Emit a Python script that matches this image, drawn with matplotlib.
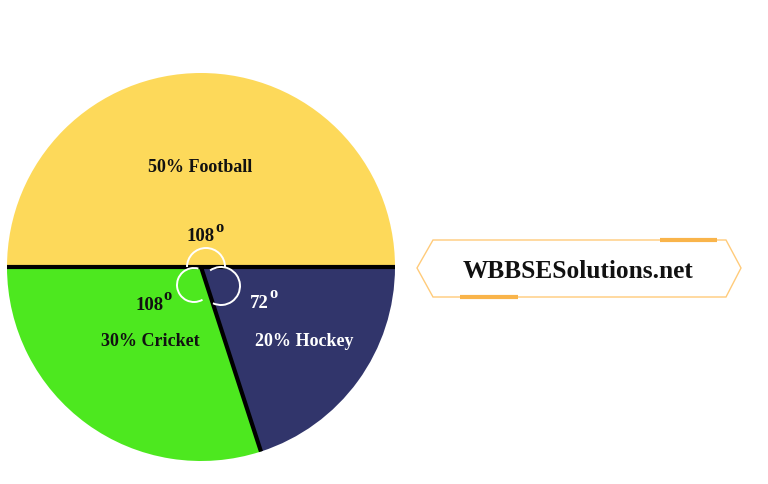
import numpy as np
import matplotlib
matplotlib.use("Agg")
import matplotlib.pyplot as plt
from matplotlib.patches import Arc, Polygon

# ---- data ----
sports = ["Football", "Cricket", "Hockey"]
shares = [50, 30, 20]
angle_labels = ["108", "108", "72"]
colors = ["#FDD95A", "#4DE81F", "#31356B"]
site = "WBBSESolutions.net"

W, H = 768, 485
fig = plt.figure(figsize=(W / 100, H / 100), dpi=100)
ax = fig.add_axes([0, 0, 1, 1])

def Y(py):
    return H - py

cx, cy, R = 201, Y(268), 194
ax.pie(shares, colors=colors, startangle=0, counterclock=True,
       center=(cx, cy), radius=R, wedgeprops=dict(linewidth=0))

# boundary lines
bounds = np.cumsum([0] + shares[:-1]) / sum(shares) * 360
for a in bounds:
    t = np.deg2rad(a)
    ax.plot([cx, cx + R * np.cos(t)], [cy, cy + R * np.sin(t)],
            color="black", lw=3, solid_capstyle="butt", zorder=3)

# angle arcs
arc_kw = dict(color="white", lw=1.4, zorder=4)
ax.add_patch(Arc((206, Y(268)), 38, 38, theta1=0, theta2=180, **arc_kw))
ax.add_patch(Arc((194, Y(286)), 34, 34, theta1=75, theta2=300, **arc_kw))
ax.add_patch(Arc((221, Y(287)), 38, 38, theta1=-115, theta2=125, **arc_kw))

serif = ["Liberation Serif", "DejaVu Serif"]
tkw = dict(family=serif, fontweight="bold", ha="center", va="center_baseline",
           zorder=5)

# category labels
cat_pos = [(200, 166), (150, 340), (304, 339)]
cat_col = ["#111111", "#111111", "white"]
for s, v, (px, py), c in zip(sports, shares, cat_pos, cat_col):
    ax.text(px, Y(py), f"{v}% {s}", fontsize=13, color=c, **tkw)

# angle labels
ang_pos = [(201, 235), (150, 304), (259, 301)]
deg_pos = [(220, 226), (167, 294), (273, 292)]
for s, (px, py), (dx, dy), c in zip(angle_labels, ang_pos, deg_pos, cat_col):
    ax.text(px, Y(py), s, fontsize=13.5, color=c, **tkw)
    ax.text(dx, Y(dy), "o", fontsize=12, color=c, **tkw)

# site box
box = [(417, 269), (433, 241), (726, 241), (741, 269), (726, 298), (433, 298)]
ax.add_patch(Polygon([(x, Y(y)) for x, y in box], closed=True, fill=False,
                     edgecolor="#FFCB7A", lw=1.0, zorder=2))
ax.plot([660, 717], [Y(241), Y(241)], color="#F9B44A", lw=3,
        solid_capstyle="butt", zorder=3)
ax.plot([460, 518], [Y(298), Y(298)], color="#F9B44A", lw=3,
        solid_capstyle="butt", zorder=3)
ax.text(578, Y(269), site, fontsize=18.3, color="#111111", **tkw)

ax.set_xlim(0, W)
ax.set_ylim(0, H)
ax.set_aspect("equal")
ax.axis("off")
fig.savefig("out.png", dpi=100, facecolor="white")
